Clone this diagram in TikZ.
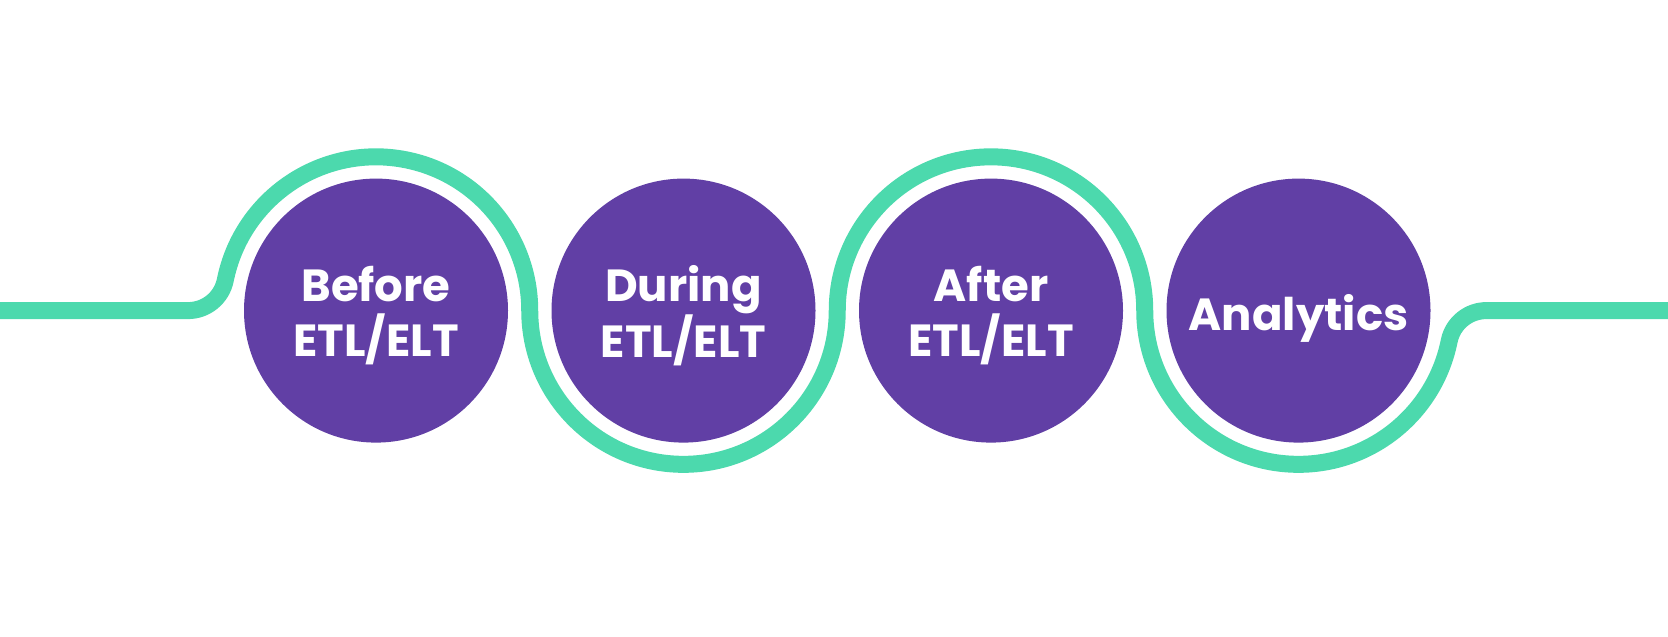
\documentclass[tikz,border=0pt]{standalone}
\usepackage{fontspec}
\setmainfont{Poppins}
\definecolor{stepPurple}{RGB}{97,63,165}
\definecolor{trackGreen}{RGB}{76,217,173}
\begin{document}
\begin{tikzpicture}[x=1pt,y=1pt,
  circ/.style={circle,fill=stepPurple,draw=none,minimum size=264pt,inner sep=0pt},
  lbl/.style={text=white,align=center,inner sep=0pt,font=\fontsize{45}{55}\selectfont\bfseries},
  track/.style={draw=trackGreen,line width=17pt}]
\useasboundingbox (0,0) rectangle (1668,637);
\node[circ] (c1) at (376,326.4) {};
\node[circ] (c2) at (683.5,326.4) {};
\node[circ] (c3) at (991,326.4) {};
\node[circ] (c4) at (1298.5,326.4) {};
\node[lbl] (t1) at ([yshift=-5pt]c1.center) {Before\\ETL/ELT};
\node[lbl] (t2) at ([yshift=-5pt]c2.center) {During\\ETL/ELT};
\node[lbl] (t3) at ([yshift=-5pt]c3.center) {After\\ETL/ELT};
\node[lbl] (t4) at ([yshift=-8pt]c4.center) {Analytics};
\coordinate (start) at (0,326.4);
\coordinate (stop) at (1668,326.4);
\draw[track] (start) -- (188.05,326.4)
  arc[start angle=-90,end angle=-11.43,radius=38]
  arc[start angle=168.57,end angle=0,radius=153.75]
  arc[start angle=180,end angle=360,radius=153.75]
  arc[start angle=180,end angle=0,radius=153.75]
  arc[start angle=180,end angle=348.57,radius=153.75]
  arc[start angle=168.57,end angle=90,radius=38]
  -- (stop);
\end{tikzpicture}
\end{document}
